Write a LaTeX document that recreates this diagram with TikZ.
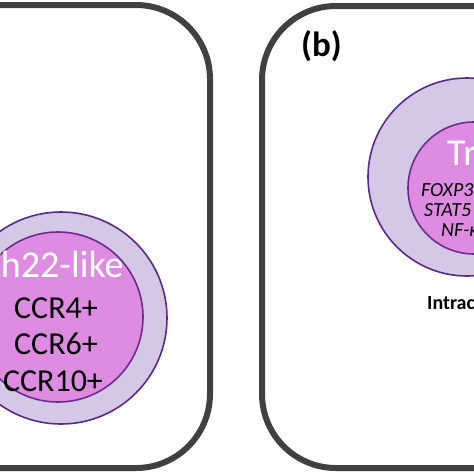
\documentclass[tikz,border=0pt]{standalone}
\usepackage{fontspec}
\setmainfont{Carlito}
\definecolor{boxline}{HTML}{404040}
\definecolor{ringfill}{HTML}{D4C8E6}
\definecolor{ringline}{HTML}{5A2A88}
\definecolor{corefill}{HTML}{DE8CE2}
\definecolor{coreline}{HTML}{6B2C8E}
\tikzset{
  panel/.style={draw=boxline, line width=6pt, rounded corners=74pt},
  ring/.style={fill=ringfill, draw=ringline, line width=1.6pt},
  core/.style={fill=corefill, draw=coreline, line width=1.6pt},
  celltitle/.style={text=white, inner sep=0pt, font=\fontsize{38}{42}\selectfont},
  marker/.style={text=black, inner sep=0pt, font=\fontsize{32}{36}\selectfont},
  tfactor/.style={text=black, inner sep=0pt, font=\itshape\fontsize{20}{23}\selectfont},
  caption/.style={text=black, inner sep=0pt, font=\bfseries\fontsize{20}{23}\selectfont}
}
\begin{document}
\begin{tikzpicture}[x=1pt,y=-1pt]
\useasboundingbox (0,0) rectangle (474,474);
\clip (0,0) rectangle (474,474);
\fill[white] (0,0) rectangle (474,474);
% panels
\draw[panel] (-120,5) rectangle (210,468);
\draw[panel] (262,6) rectangle (620,468);
% left cell
\draw[ring] (61,318) circle[radius=106];
\draw[core] (58,317) circle[radius=85];
\node[celltitle, anchor=base] (t1) at (53,277) {Th22-like};
\node[marker, anchor=base] (m1) at (56,318) {CCR4+};
\node[marker, anchor=base] (m2) at (56,354) {CCR6+};
\node[marker, anchor=base] (m3) at (53,391) {CCR10+};
% right cell
\draw[ring] (467,177) circle[radius=99];
\draw[core] (474,188) circle[radius=66];
\node[celltitle, anchor=base west] (t2) at (447,165) {Tr};
\node[tfactor, anchor=base west] (f1) at (421,196) {FOXP3};
\node[tfactor, anchor=base west] (f2) at (424,216) {STAT5};
\node[tfactor, anchor=base west] (f3) at (441,236) {NF-κ};
\node[caption, anchor=base west] (c1) at (427,309) {Intrac};
\node[text=black, inner sep=0pt, anchor=base west, font=\bfseries\fontsize{35}{38}\selectfont] (lb) at (301,56) {(b)};
\end{tikzpicture}
\end{document}
